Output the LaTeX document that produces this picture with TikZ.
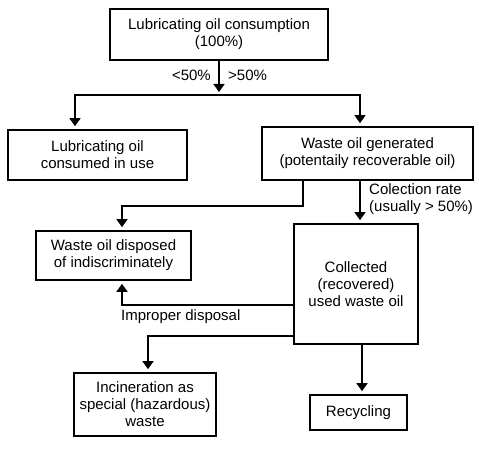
\documentclass[tikz,border=0pt]{standalone}
\usepackage{fontspec}
\setmainfont{Liberation Sans}
\usetikzlibrary{arrows.meta}

\begin{document}
\begin{tikzpicture}[x=1bp,y=-1bp,
    box/.style={draw,line width=1.7bp,align=center,inner sep=0pt,
      font=\fontsize{15bp}{17bp}\selectfont},
    flow/.style={line width=1.7bp,-{Triangle[width=11bp,length=8bp]},shorten >=3bp},
    lbl/.style={font=\fontsize{15bp}{17bp}\selectfont,inner sep=0pt}]
  \useasboundingbox (0,0) rectangle (479,449);
  % boxes
  \node[box,minimum width=218bp,minimum height=51bp] (total) at (219,34.5)
    {Lubricating oil consumption\\(100\%)};
  \node[box,minimum width=179bp,minimum height=50bp] (used) at (97.5,155)
    {Lubricating oil\\consumed in use};
  \node[box,minimum width=211bp,minimum height=53bp] (waste) at (367.5,153.5)
    {Waste oil generated\\(potentaily recoverable oil)};
  \node[box,minimum width=155bp,minimum height=49bp] (dumped) at (113.5,255.5)
    {Waste oil disposed\\of indiscriminately};
  \node[box,minimum width=124bp,minimum height=120bp] (collected) at (356,284)
    {Collected\\(recovered)\\used waste oil};
  \node[box,minimum width=142bp,minimum height=63bp] (burnt) at (145,404.5)
    {Incineration as\\special (hazardous)\\waste};
  \node[box,minimum width=97bp,minimum height=35bp] (recycled) at (358.5,412.5)
    {Recycling};
  % split below the top box
  \coordinate (split) at (219,95);
  \draw[flow] (total) -- (split);
  \draw[flow] (split) -| ([xshift=-22.5bp]used.north);
  \draw[flow] (split) -| ([xshift=-7.5bp]waste.north);
  \node[lbl,anchor=east] (less) at (211,75) {<50\%};
  \node[lbl,anchor=west] (more) at (228,75) {>50\%};
  % waste oil generated
  \draw[flow] ([xshift=-64.5bp]waste.south) -- ++(0,25) -| ([xshift=8.5bp]dumped.north);
  \draw[flow] ([xshift=-7.5bp]waste.south) -- ([xshift=-7.5bp]waste.south |- collected.north);
  \node[lbl,anchor=north west,align=left] (rate) at (369,183)
    {Colection rate\\(usually > 50\%)};
  % collected oil
  \draw[flow] ([yshift=-21bp]collected.west) -| ([xshift=8.5bp]dumped.south);
  \node[lbl,anchor=north west] (improper) at (121,309) {Improper disposal};
  \draw[flow] ([yshift=-52bp]collected.west) -| ([xshift=3bp]burnt.north);
  \draw[flow] ([xshift=6bp]collected.south) -- ([xshift=6bp]collected.south |- recycled.north);
\end{tikzpicture}
\end{document}
